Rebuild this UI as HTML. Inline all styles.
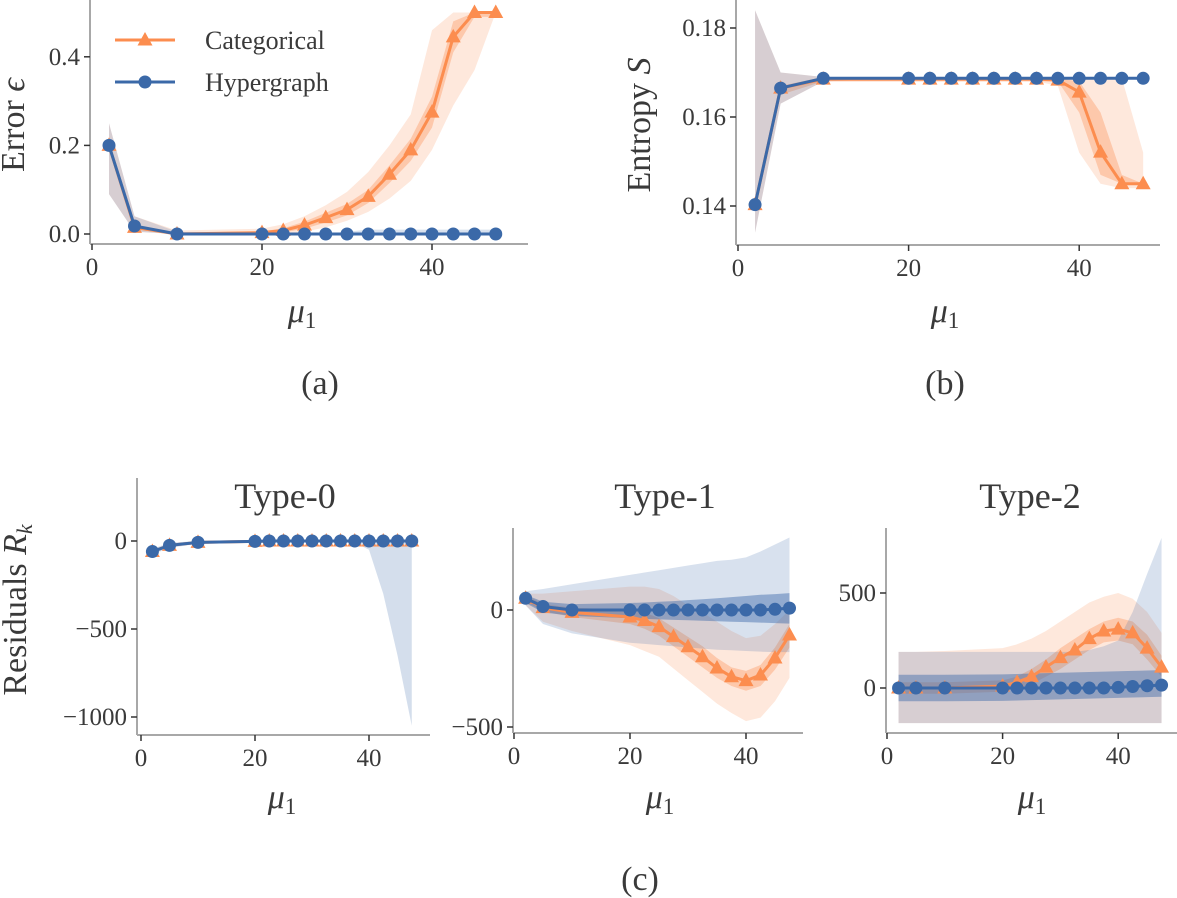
<!DOCTYPE html>
<html><head><meta charset="utf-8"><style>
body{margin:0;background:#fff;}
svg{display:block;font-family:"Liberation Serif",serif;}
text{fill:#3a3a3a;}
</style></head><body>
<svg id="fig" width="1177" height="898" viewBox="0 0 1177 898" xmlns="http://www.w3.org/2000/svg"></svg>
<script>
const xs=[2,5,10,20,22.5,25,27.5,30,32.5,35,37.5,40,42.5,45,47.5];
// panel a
const aCat=[0.2,0.015,0,0.003,0.008,0.02,0.037,0.055,0.085,0.135,0.19,0.275,0.445,0.5,0.5];
const aCatInLo=[0.19,0.01,0,0,0.003,0.012,0.026,0.042,0.07,0.115,0.165,0.24,0.41,0.49,0.49];
const aCatInHi=[0.21,0.02,0.003,0.006,0.013,0.028,0.048,0.068,0.1,0.155,0.215,0.31,0.48,0.5,0.5];
const aCatOutLo=[0.09,0.005,0,0,0,0.005,0.015,0.03,0.05,0.08,0.12,0.19,0.29,0.37,0.5];
const aCatOutHi=[0.25,0.04,0.008,0.012,0.022,0.04,0.065,0.095,0.14,0.2,0.27,0.46,0.5,0.5,0.5];
const aHyp=[0.2,0.018,0,0,0,0,0,0,0,0,0,0,0,0,0];
const aHypLo=[0.09,0.005,0,0,0,0,0,0,0,0,0,0,0,0,0];
const aHypHi=[0.25,0.04,0.005,0,0,0,0,0.005,0.01,0.01,0.01,0.01,0.01,0.01,0.01];
// panel b
const bCat=[0.1403,0.1665,0.1685,0.1685,0.1685,0.1685,0.1685,0.1685,0.1685,0.1685,0.1683,0.1656,0.1521,0.145,0.145];
const bCatInLo=[0.139,0.165,0.168,0.168,0.168,0.168,0.168,0.168,0.168,0.168,0.168,0.161,0.147,0.145,0.145];
const bCatInHi=[0.141,0.167,0.169,0.169,0.169,0.169,0.169,0.169,0.169,0.169,0.1687,0.168,0.161,0.147,0.145];
const bCatOutLo=[0.134,0.163,0.168,0.168,0.168,0.168,0.168,0.168,0.168,0.168,0.167,0.152,0.145,0.144,0.144];
const bCatOutHi=[0.184,0.17,0.169,0.169,0.169,0.169,0.169,0.169,0.169,0.169,0.1687,0.1687,0.1687,0.1687,0.152];
const bHyp=[0.1403,0.1665,0.1687,0.1687,0.1687,0.1687,0.1687,0.1687,0.1687,0.1687,0.1687,0.1687,0.1687,0.1687,0.1687];
const bHypLo=[0.134,0.163,0.168,0.1687,0.1687,0.1687,0.1687,0.1687,0.1687,0.1687,0.1687,0.1687,0.1687,0.1687,0.1687];
const bHypHi=[0.184,0.17,0.169,0.1687,0.1687,0.1687,0.1687,0.1687,0.1687,0.1687,0.1687,0.1687,0.1687,0.1687,0.1687];
// panel c0
const c0Cat=[-60,-25,-8,-2,0,0,0,0,0,0,0,0,0,0,0];
const c0Hyp=[-60,-25,-8,-2,0,0,0,0,0,0,0,0,0,0,0];
const c0HypLo=[-75,-40,-15,-5,-3,-3,-3,-3,-3,-5,-10,-50,-300,-650,-1050];
const c0HypHi=[-45,-10,0,0,0,0,0,0,0,0,0,0,0,0,0];
// panel c1
const c1Cat=[50,10,-10,-30,-45,-71,-114,-157,-200,-248,-285,-302,-278,-205,-107];
const c1CatInLo=[35,-5,-30,-60,-80,-110,-155,-200,-245,-290,-325,-345,-325,-255,-160];
const c1CatInHi=[65,25,10,0,-10,-35,-75,-115,-155,-205,-245,-260,-235,-160,-60];
const c1CatOutLo=[20,-50,-90,-150,-175,-200,-250,-300,-350,-400,-440,-475,-460,-390,-290];
const c1CatOutHi=[70,70,80,100,100,90,60,20,-10,-50,-90,-120,-110,-60,0];
const c1Hyp=[50,15,0,0,0,0,0,0,0,0,0,0,0,3,8];
const c1HypInLo=[30,-10,-25,-35,-38,-40,-42,-44,-46,-48,-50,-52,-54,-56,-58];
const c1HypInHi=[65,35,25,30,32,35,38,42,46,50,55,60,65,68,72];
const c1HypOutLo=[20,-60,-100,-140,-145,-150,-155,-160,-165,-170,-172,-175,-178,-180,-180];
const c1HypOutHi=[80,90,110,150,160,170,180,190,200,210,215,225,250,280,310];
// panel c2
const c2Cat=[0,0,0,10,30,60,110,160,200,260,300,310,290,210,110];
const c2CatInLo=[-30,-30,-30,-20,0,20,60,100,150,200,240,250,230,150,60];
const c2CatInHi=[30,30,30,40,60,100,150,210,260,310,350,370,350,280,170];
const c2CatOutLo=[-185,-185,-185,-185,-185,-185,-185,-185,-185,-185,-185,-185,-185,-185,-185];
const c2CatOutHi=[190,190,195,210,230,260,300,350,400,450,480,500,470,400,290];
const c2Hyp=[0,0,0,0,0,0,0,0,0,0,0,3,8,12,15];
const c2HypInLo=[-70,-70,-70,-68,-66,-64,-62,-60,-58,-56,-54,-52,-50,-48,-46];
const c2HypInHi=[70,70,70,72,74,76,78,80,82,84,86,88,90,92,94];
const c2HypOutLo=[-185,-185,-185,-185,-185,-185,-185,-185,-185,-185,-185,-185,-185,-185,-185];
const c2HypOutHi=[190,190,190,190,190,190,190,190,190,200,220,250,400,600,790];
const xTicks=[0,20,40];

const OR="#fc8d4f", BL="#3b69a8";
const svg=document.getElementById('fig');
const NS="http://www.w3.org/2000/svg";
function mk(tag,attrs,parent){const e=document.createElementNS(NS,tag);for(const k in attrs)e.setAttribute(k,attrs[k]);(parent||svg).appendChild(e);return e;}

function panel(name,P){
  const g=mk('g',{});
  
  
  const X=v=>P.x0+(v)*P.kx, Y=v=>P.y0-(v-P.v0)*P.ky;
  function band(lo,hi,col,op,nm){
    let d='M'+xs.map((x,i)=>X(x)+','+Y(hi[i])).join('L')+'L'+xs.slice().reverse().map((x,j)=>{const i=xs.length-1-j;return X(x)+','+Y(lo[i]);}).join('L')+'Z';
    const p=mk('path',{d:d,fill:col,'fill-opacity':op},g);
    
    
  }
  P.bands.forEach(b=>band(b[0],b[1],b[2],b[3],b[4]));
  const sp=mk('line',{x1:P.sx,y1:P.sTop,x2:P.sx,y2:P.ay,stroke:'#a8a8a8','stroke-width':2},g);
  
  
  const ax=mk('line',{x1:P.sx,y1:P.ay,x2:P.axEnd,y2:P.ay,stroke:'#a8a8a8','stroke-width':2},g);
  
  
  xTicks.forEach(t=>{
    mk('line',{x1:X(t),y1:P.ay,x2:X(t),y2:P.ay+6,stroke:'#333','stroke-width':1.5},g);
    const tx=mk('text',{x:X(t),y:P.ay+31,'font-size':25,'text-anchor':'middle'},g);
    tx.textContent=String(t);
    
    
  });
  P.yTicks.forEach((t,i)=>{
    mk('line',{x1:P.sx-6,y1:Y(t),x2:P.sx,y2:Y(t),stroke:'#333','stroke-width':1.5},g);
    const tx=mk('text',{x:P.sx-10,y:Y(t)+8,'font-size':25,'text-anchor':'end'},g);
    tx.textContent=P.yLabels[i];
    
    
  });
  function series(vals,col,marker,nm){
    const pl=mk('polyline',{points:xs.map((x,i)=>X(x)+','+Y(vals[i])).join(' '),fill:'none',stroke:col,'stroke-width':3,'stroke-linejoin':'round'},g);
    
    
    xs.forEach((x,i)=>{
      const cx=X(x),cy=Y(vals[i]);let m;
      if(marker==='tri'){m=mk('polygon',{points:(cx)+','+(cy-8)+' '+(cx-7.5)+','+(cy+5.5)+' '+(cx+7.5)+','+(cy+5.5),fill:col},g);}
      else{m=mk('circle',{cx:cx,cy:cy,r:6.5,fill:col},g);}
      
      
    });
  }
  series(P.cat,OR,'tri','categorical');
  series(P.hyp,BL,'circ','hypergraph');
}
function label(txt,x,y,size,nm,rot){
  const t=mk('text',{x:x,y:y,'font-size':size,'text-anchor':'middle'});
  if(rot)t.setAttribute('transform','rotate(-90 '+x+' '+y+')');
  t.innerHTML=txt;
  
  
}

panel('panel-a',{x0:92,kx:8.5,y0:234,v0:0,ky:443,sx:90,sTop:0,ay:244,axEnd:528,
  yTicks:[0,0.2,0.4],yLabels:['0.0','0.2','0.4'],cat:aCat,hyp:aHyp,
  bands:[[aCatOutLo,aCatOutHi,OR,0.2,'categorical-range'],[aCatInLo,aCatInHi,OR,0.35,'categorical-std'],[aHypLo,aHypHi,BL,0.2,'hypergraph-range']]});
panel('panel-b',{x0:738,kx:8.53,y0:206,v0:0.14,ky:4450,sx:736,sTop:0,ay:245,axEnd:1160,
  yTicks:[0.14,0.16,0.18],yLabels:['0.14','0.16','0.18'],cat:bCat,hyp:bHyp,
  bands:[[bCatOutLo,bCatOutHi,OR,0.2,'categorical-range'],[bCatInLo,bCatInHi,OR,0.35,'categorical-std'],[bHypLo,bHypHi,BL,0.2,'hypergraph-range']]});
panel('panel-c0',{x0:141,kx:5.7,y0:541,v0:0,ky:0.176,sx:137,sTop:478,ay:735,axEnd:430,
  yTicks:[0,-500,-1000],yLabels:['0','−500','−1000'],cat:c0Cat,hyp:c0Hyp,
  bands:[[c0HypLo,c0HypHi,BL,0.22,'hypergraph-range']]});
panel('panel-c1',{x0:514,kx:5.8,y0:610,v0:0,ky:0.234,sx:513,sTop:528,ay:733,axEnd:803,
  yTicks:[0,-500],yLabels:['0','−500'],cat:c1Cat,hyp:c1Hyp,
  bands:[[c1CatOutLo,c1CatOutHi,OR,0.2,'categorical-range'],[c1CatInLo,c1CatInHi,OR,0.35,'categorical-std'],[c1HypOutLo,c1HypOutHi,BL,0.2,'hypergraph-range'],[c1HypInLo,c1HypInHi,BL,0.45,'hypergraph-std']]});
panel('panel-c2',{x0:887,kx:5.78,y0:688,v0:0,ky:0.19,sx:886,sTop:528,ay:733,axEnd:1177,
  yTicks:[0,500],yLabels:['0','500'],cat:c2Cat,hyp:c2Hyp,
  bands:[[c2CatOutLo,c2CatOutHi,OR,0.2,'categorical-range'],[c2CatInLo,c2CatInHi,OR,0.35,'categorical-std'],[c2HypOutLo,c2HypOutHi,BL,0.2,'hypergraph-range'],[c2HypInLo,c2HypInHi,BL,0.45,'hypergraph-std']]});

const lg=mk('g',{});


mk('line',{x1:115,y1:40,x2:175,y2:40,stroke:OR,'stroke-width':3},lg);
mk('polygon',{points:'145,32 137.5,45.5 152.5,45.5',fill:OR},lg);
mk('line',{x1:115,y1:82,x2:175,y2:82,stroke:BL,'stroke-width':3},lg);
mk('circle',{cx:145,cy:82,r:6.5,fill:BL},lg);
const l1=mk('text',{x:205,y:49,'font-size':26},lg);l1.textContent='Categorical';
const l2=mk('text',{x:205,y:91,'font-size':26},lg);l2.textContent='Hypergraph';

label('Error <tspan font-style="italic">ϵ</tspan>',24,125,34,'y-axis-title-a',true);
label('Entropy <tspan font-style="italic">S</tspan>',650,125,34,'y-axis-title-b',true);
label('Residuals <tspan font-style="italic">R</tspan><tspan font-size="22" font-style="italic" dy="6">k</tspan>',26,610,34,'y-axis-title-c',true);
label('<tspan font-style="italic">μ</tspan><tspan font-size="23" dy="6">1</tspan>',302,322,34,'x-axis-title-a');
label('<tspan font-style="italic">μ</tspan><tspan font-size="23" dy="6">1</tspan>',945,322,34,'x-axis-title-b');
label('<tspan font-style="italic">μ</tspan><tspan font-size="23" dy="6">1</tspan>',282,808,34,'x-axis-title-c0');
label('<tspan font-style="italic">μ</tspan><tspan font-size="23" dy="6">1</tspan>',660,808,34,'x-axis-title-c1');
label('<tspan font-style="italic">μ</tspan><tspan font-size="23" dy="6">1</tspan>',1032,808,34,'x-axis-title-c2');
label('(a)',320,394,34,'caption-a');
label('(b)',945,394,34,'caption-b');
label('(c)',640,890,34,'caption-c');
label('Type-0',285,508,36,'title-type-0');
label('Type-1',665,508,36,'title-type-1');
label('Type-2',1030,508,36,'title-type-2');
</script>
</body></html>
